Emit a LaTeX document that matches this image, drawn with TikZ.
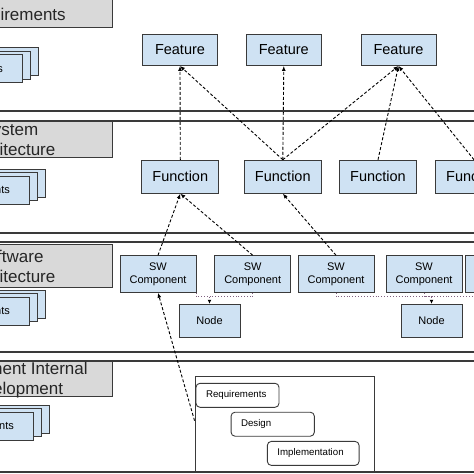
\documentclass[tikz,border=0pt]{standalone}
\usepackage{fontspec}
\setmainfont{Liberation Sans}
\usepackage{xcolor}
\usetikzlibrary{arrows.meta,positioning,calc}

\definecolor{boxblue}{HTML}{CFE2F3}
\definecolor{hdrgray}{HTML}{D9D9D9}
\definecolor{edge}{HTML}{3A3A3A}
\definecolor{alloccol}{HTML}{806080}

\begin{document}
\begin{tikzpicture}[
    x=1pt, y=-1pt,
    band/.style={draw=edge, line width=1.1pt},
    hdrbox/.style={draw=edge, fill=hdrgray, line width=0.9pt},
    hdrtext/.style={font=\fontsize{17}{20}\selectfont, align=center, text=black!85, inner sep=0pt},
    page/.style={rectangle, draw=edge, fill=boxblue, minimum width=94pt, minimum height=28pt, font=\fontsize{11}{13}\selectfont},
    feat/.style={rectangle, draw=edge, fill=boxblue, line width=0.9pt, minimum width=75pt, minimum height=31pt, font=\fontsize{14.5}{17}\selectfont},
    func/.style={feat, minimum width=77pt, minimum height=33pt},
    swc/.style={rectangle, draw=edge, fill=boxblue, line width=0.9pt, minimum width=76pt, minimum height=36.6pt, align=center, font=\fontsize{11}{13}\selectfont},
    hw/.style={swc, minimum width=61pt, minimum height=33pt},
    phase/.style={rectangle, rounded corners=4pt, draw=edge, fill=white, line width=0.9pt, text width=#1, inner xsep=10pt, minimum height=24pt, align=left, font=\fontsize{9.7}{11}\selectfont},
    dep/.style={-{Latex[length=5pt,width=4pt]}, dashed, dash pattern=on 3pt off 2pt, line width=0.9pt},
    alloc/.style={alloccol, dotted, line width=0.9pt},
    alloctip/.style={alloc, -{Latex[length=4pt,width=4pt,color=black]}}
]
    \useasboundingbox (0,0) rectangle (474,474);
    \clip (0,0) rectangle (474,474);

    % bands
    \draw[band] (-10,-10) rectangle (484,111);
    \draw[band] (-10,121) rectangle (484,233);
    \draw[band] (-10,242) rectangle (484,352);
    \draw[band] (-10,361) rectangle (484,472);

    % band headers
    \draw[hdrbox] (-82,-10) rectangle (112,27);
    \node[hdrtext] (reqhdr) at (12.8,16) {Requirements};
    \draw[hdrbox] (-82,121.7) rectangle (112,157);
    \node[hdrtext] (syshdr) at (10,140) {System\\Architecture};
    \draw[hdrbox] (-82,244.3) rectangle (112,287.7);
    \node[hdrtext] (swhdr) at (10,266) {Software\\Architecture};
    \draw[hdrbox] (-82,361.7) rectangle (112,396.7);
    \node[hdrtext] (devhdr) at (13,380.5) {Component Internal\\Development};

    % document stacks
    \foreach \fx/\fy/\nm in {-25/68.5/docreq, -18/189.7/docsys, -18/310.7/docsw, -14/425.7/docdev} {
        \node[page] (\nm-b) at (\fx+16,\fy-7) {};
        \node[page] (\nm-m) at (\fx+8,\fy-3.5) {};
        \node[page] (\nm) at (\fx,\fy) {Documents};
    }

    % features
    \node[feat] (feat1) at (180,50) {Feature};
    \node[feat] (feat2) at (283.8,50) {Feature};
    \node[feat] (feat3) at (398.5,50) {Feature};

    % functions
    \node[func] (func1) at (180.3,176.7) {Function};
    \node[func] (func2) at (282.8,176.7) {Function};
    \node[func] (func3) at (378,176.7) {Function};
    \node[func] (func4) at (474,176.7) {Function};

    % software components and nodes
    \node[swc] (sw1) at (158,274) {SW\\Component};
    \node[swc] (sw2) at (252.7,274) {SW\\Component};
    \node[swc] (sw3) at (336,274) {SW\\Component};
    \node[swc] (sw4) at (424,274) {SW\\Component};
    \node[swc] (sw5) at (503.3,274) {SW\\Component};
    \node[hw] (hw1) at (209.5,320.7) {Node};
    \node[hw] (hw2) at (431.5,320.7) {Node};

    % component development
    \node[draw=edge, line width=0.9pt, minimum width=179pt, minimum height=96pt] (dev) at (284.5,424.7) {};
    \node[phase=63pt] (phreq) at (237.5,395.3) {Requirements};
    \node[phase=63.3pt] (phdes) at (272.7,424.2) {Design};
    \node[phase=71.7pt] (phimpl) at (313.2,453.4) {Implementation};

    % traces
    \draw[dep] (func1.north) -- (feat1.south);
    \draw[dep] (func2.north) -- (feat1.south);
    \draw[dep] (func2.north) -- (feat2.south);
    \draw[dep] (func2.north) -- (feat3.south);
    \draw[dep] (func3.north) -- (feat3.south);
    \draw[dep] (func4.north) -- (feat3.south);
    \draw[dep] (sw1.north) -- (func1.south);
    \draw[dep] (sw2.north) -- (func1.south);
    \draw[dep] (sw3.north) -- (func2.south);
    \draw[dep] ([yshift=4pt]dev.west) -- (sw1.south);

    % allocation
    \coordinate (hwA) at ($(hw1.north)+(0,-7)$);
    \coordinate (hwB) at ($(hw2.north)+(0,-7)$);
    \draw[alloc] (sw1.south east) |- (hwA);
    \draw[alloc] (sw2.south) |- (hwA);
    \draw[alloctip] (hwA) -- (hw1.north);
    \draw[alloc] (sw3.south) |- (hwB);
    \draw[alloc] (sw4.south) |- (hwB);
    \draw[alloc] (sw5.south) |- (hwB);
    \draw[alloctip] (hwB) -- (hw2.north);
\end{tikzpicture}
\end{document}
